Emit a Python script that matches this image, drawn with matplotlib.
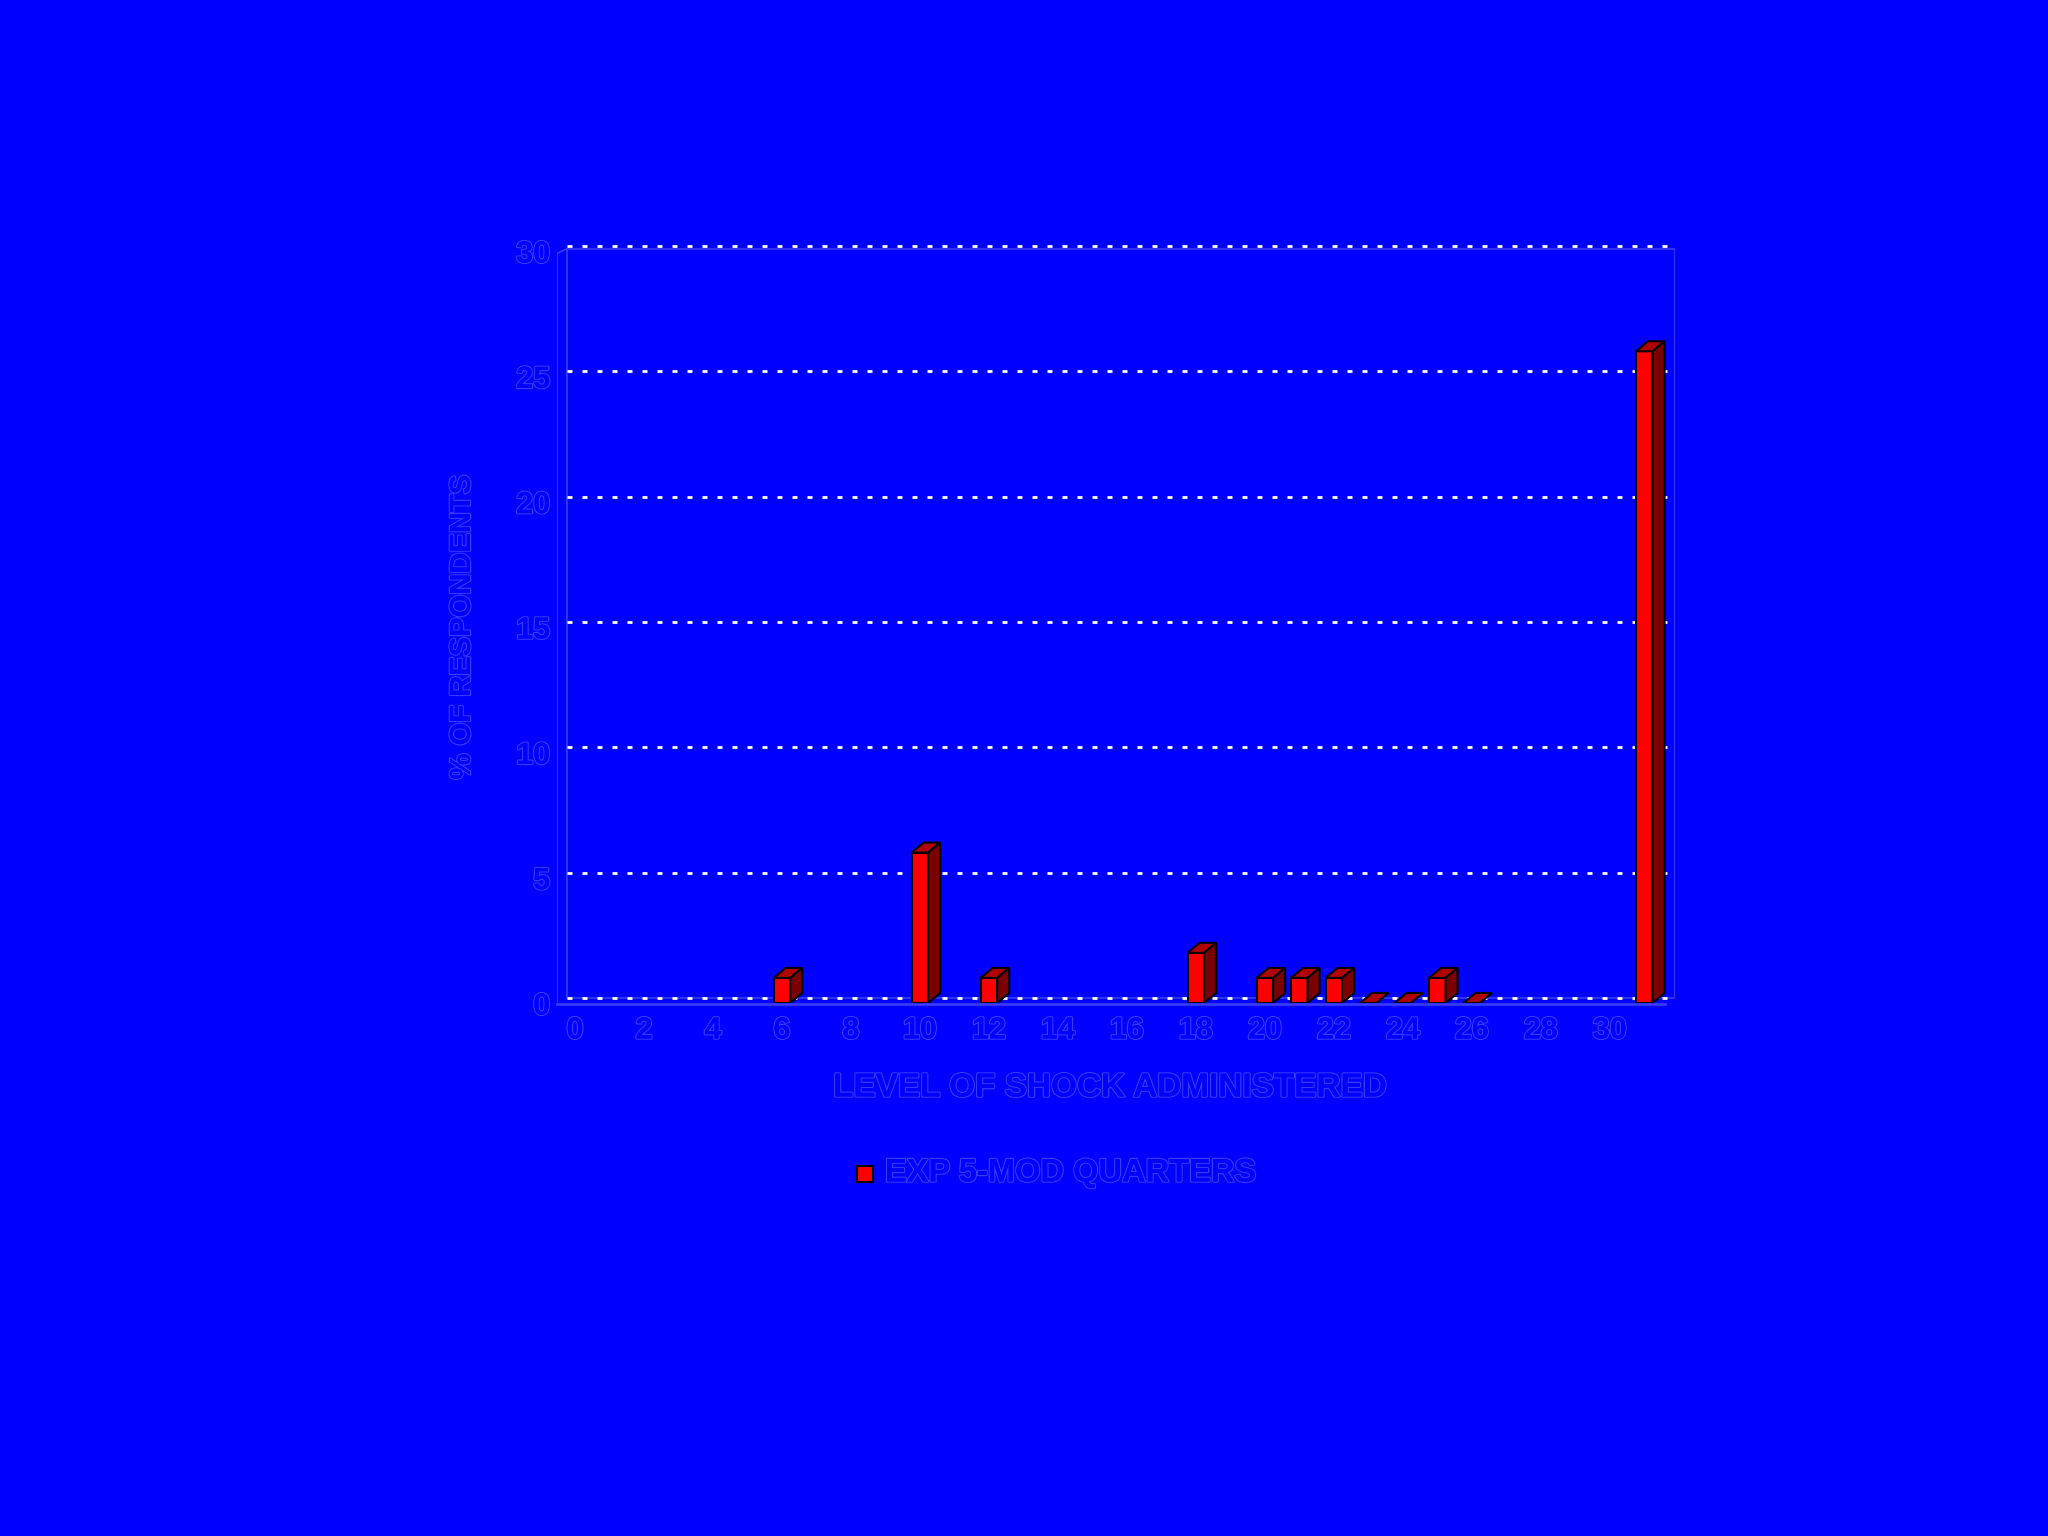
import numpy as np
import matplotlib
matplotlib.use("Agg")
import matplotlib.pyplot as plt
from matplotlib.patches import Polygon, Rectangle
import matplotlib.patheffects as pe

# shock level (category index) and % of respondents; nan = no entry
levels = np.arange(32)
values = np.full(32, np.nan)
values[6] = 1
values[10] = 6
values[12] = 1
values[18] = 2
values[20] = 1
values[21] = 1
values[22] = 1
values[23] = 0
values[24] = 0
values[25] = 1
values[26] = 0
values[31] = 26

xtick_pos = np.arange(0, 31, 2)
xtick_labels = [str(v) for v in xtick_pos]
ytick_pos = np.arange(0, 31, 5)
series_name = "EXP 5-MOD QUARTERS"

bg = "#0000FF"
edge = "#3a3aff"
fx = [pe.withStroke(linewidth=1.8, foreground=edge), pe.Normal()]

plt.rcParams["font.family"] = ["Liberation Sans", "DejaVu Sans"]
plt.rcParams["font.weight"] = "bold"

fig = plt.figure(figsize=(20.48, 15.36), dpi=100, facecolor=bg)
ax = fig.add_axes([0.272, 0.347, 0.546, 0.501])
ax.set_facecolor(bg)
xmin, xmax = -0.52, 31.9
ymax = 30.7
ax.set_xlim(xmin, xmax)
ax.set_ylim(0, ymax)
for s in ax.spines.values():
    s.set_visible(False)

ddx, ddy = 0.35, 0.4   # bar depth
gdx, gdy = 0.3, 0.2    # back wall offset

# walls
ax.add_patch(Rectangle((xmin + gdx, gdy), xmax - xmin - gdx, 30 - gdy + 0.1,
                       fill=False, ec=edge, lw=1.2, zorder=1))
ax.plot([xmin, xmin], [0, 30 - 0.1], color=edge, lw=1.2, zorder=1)
ax.plot([xmin, xmin + gdx], [30 - 0.1, 30 + 0.1], color=edge, lw=1.2, zorder=1)
ax.plot([xmin, xmax - gdx], [-0.05, -0.05], color=edge, lw=2, zorder=1, clip_on=False)

# gridlines on back wall
for v in ytick_pos:
    ax.plot([xmin + gdx, xmax - 0.1], [v + gdy, v + gdy], color="white",
            lw=2, ls=(0, (1.8, 3.6)), zorder=2)

# 3D bars
w = 0.48
for x, v in zip(levels, values):
    if np.isnan(v):
        continue
    x0, x1 = x - w / 2, x + w / 2
    if v > 0:
        ax.bar(x, v, width=w, color="#FF0000", edgecolor="black", lw=1.5, zorder=4)
    top = [(x0, v), (x1, v), (x1 + ddx, v + ddy), (x0 + ddx, v + ddy)]
    ax.add_patch(Polygon(top, closed=True, fc="#B00000", ec="black", lw=1.5, zorder=4))
    if v > 0:
        side = [(x1, 0), (x1 + ddx, ddy), (x1 + ddx, v + ddy), (x1, v)]
        ax.add_patch(Polygon(side, closed=True, fc="#7A0000", ec="black", lw=1.5, zorder=4))

ax.set_xticks(xtick_pos)
ax.set_xticklabels(xtick_labels)
ax.set_yticks(ytick_pos)
ax.set_yticklabels([str(v) for v in ytick_pos])
ax.tick_params(length=0, labelsize=22, colors=bg)
ax.tick_params(axis="x", pad=9)
ax.tick_params(axis="y", pad=5)
for lab in ax.get_xticklabels() + ax.get_yticklabels():
    lab.set_path_effects(fx)
    lab.set_fontweight("bold")

fig.text(1110 / 2048, 1 - 1088 / 1536, "LEVEL OF SHOCK ADMINISTERED", fontsize=24,
         color=bg, fontweight="bold", ha="center", va="center", path_effects=fx)
fig.text(462 / 2048, 1 - 627 / 1536, "% OF RESPONDENTS", fontsize=21, rotation=90,
         color=bg, fontweight="bold", ha="center", va="center", path_effects=fx)

# legend
fig.patches.append(Rectangle((857 / 2048, 1 - 1182 / 1536), 16 / 2048, 16 / 1536,
                             transform=fig.transFigure, fc="#FF0000", ec="black", lw=1.5))
fig.text(885 / 2048, 1 - 1173 / 1536, series_name, fontsize=23.5, color=bg,
         fontweight="bold", va="center", ha="left", path_effects=fx)

fig.savefig("out.png", dpi=100, facecolor=bg)
